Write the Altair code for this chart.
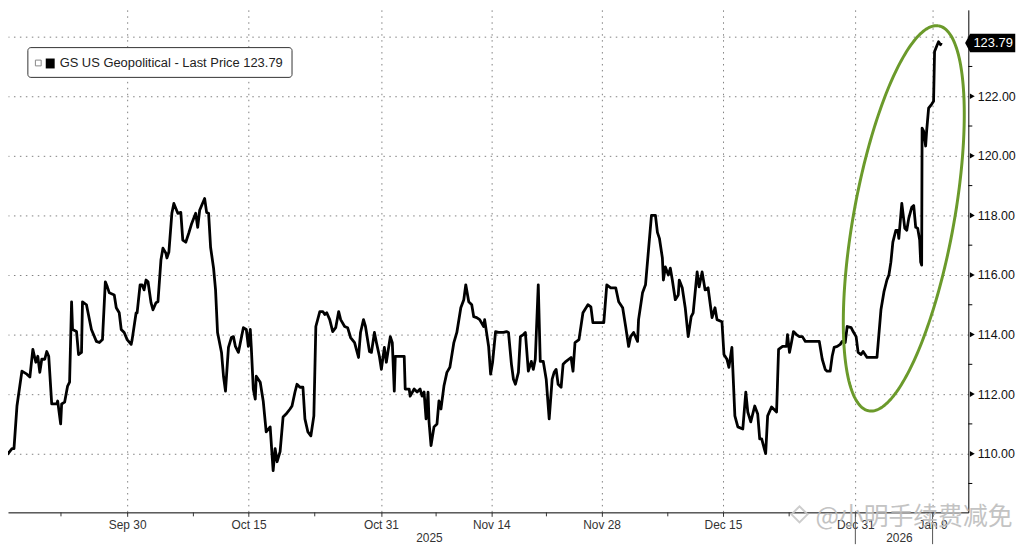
import altair as alt
import pandas as pd
import numpy as np

# ---- data (x = weekday index from Sep 15, 2025) ----
T = [-0.52, -0.25, -0.07, 0.20, 0.56, 0.74, 1.01, 1.46, 1.91, 2.18, 2.45, 2.72, 2.90, 3.08, 3.26, 3.53, 3.71, 3.89,
     4.16, 4.61, 4.70, 4.97, 5.06, 5.33, 5.60, 5.78, 5.96, 6.05, 6.41, 6.59, 6.86, 6.95, 7.31, 7.76, 8.21, 8.48, 8.76,
     9.02, 9.20, 9.38, 9.83, 10.01, 10.28, 10.46, 10.73, 11.00, 11.36, 11.45, 11.81, 11.90, 12.17, 12.35, 12.53, 12.71,
     12.89, 13.16, 13.34, 13.61, 13.79, 14.06, 14.24, 14.51, 14.60, 14.78, 15.05, 15.23, 15.59, 15.86, 16.04, 16.31,
     16.58, 16.85, 17.21, 17.39, 17.57, 17.75, 18.02, 18.20, 18.38, 18.56, 18.83, 19.01, 19.19, 19.55, 19.73, 19.91,
     20.18, 20.45, 20.63, 20.81, 21.08, 21.53, 21.80, 21.98, 22.16, 22.25, 22.43, 22.61, 22.70, 23.06, 23.33, 23.60,
     23.96, 24.23, 24.41, 24.59, 24.86, 25.13, 25.40, 25.76, 25.94, 26.21, 26.39, 26.66, 26.93, 27.11, 27.38, 27.65,
     27.92, 28.10, 28.46, 28.73, 28.91, 29.09, 29.36, 29.63, 29.90, 30.17, 30.35, 30.71, 30.98, 31.25, 31.61, 31.97,
     32.15, 32.42, 32.60, 32.96, 33.14, 33.41, 33.59, 33.86, 34.04, 34.31, 34.49, 34.85, 35.03, 35.21, 35.30, 35.66,
     36.11, 36.20, 36.56, 36.65, 37.01, 37.28, 37.55, 37.73, 37.91, 38.09, 38.27, 38.36, 38.54, 38.81, 39.08, 39.26,
     39.44, 39.71, 39.98, 40.25, 40.61, 40.88, 41.24, 41.51, 41.69, 41.96, 42.23, 42.41, 42.68, 42.95, 43.31, 43.40,
     43.76, 43.94, 44.12, 44.39, 44.66, 45.11, 45.38, 45.56, 45.83, 46.01, 46.19, 46.46, 46.64, 46.91, 47.09, 47.36,
     47.63, 47.81, 47.99, 48.26, 48.44, 48.71, 48.98, 49.25, 49.52, 49.70, 49.88, 50.06, 50.33, 50.51, 50.78, 51.23,
     51.41, 51.59, 51.95, 52.31, 52.76, 53.03, 53.21, 54.20, 54.47, 54.83, 55.28, 55.55, 55.91, 56.18, 56.45, 56.63,
     56.90, 57.26, 57.35, 57.71, 57.98, 58.25, 58.52, 58.88, 59.06, 59.24, 59.51, 59.60, 59.78, 60.05, 60.23, 60.41,
     60.68, 60.95, 61.04, 61.31, 61.58, 61.85, 62.12, 62.30, 62.66, 62.84, 63.11, 63.38, 63.65, 64.01, 64.28, 64.46,
     64.91, 65.09, 65.36, 65.54, 65.81, 66.08, 66.35, 66.80, 67.07, 67.25, 67.52, 67.88, 68.15, 68.33, 68.51, 68.87,
     69.05, 69.41, 69.86, 70.04, 70.40, 70.76, 70.85, 71.03, 71.21, 71.39, 71.66, 71.93, 72.20, 72.47, 73.73, 74.00,
     74.27, 74.44, 74.72, 74.90, 75.08, 75.36, 75.63, 75.81, 76.08, 76.26, 76.62, 76.80, 77.07, 77.25, 77.52, 77.70,
     78.06, 78.96, 79.32, 79.59, 79.86, 80.04, 80.22, 80.40, 80.67, 80.85, 80.94, 81.21, 81.48, 81.66, 81.84, 82.11,
     82.29, 82.47, 82.65, 82.83, 82.92, 83.01, 83.05, 83.19, 83.37, 83.46, 83.64, 83.91, 84.09, 84.18, 84.36, 84.54,
     84.72, 84.80]

PRICE = [109.93, 109.50, 110.17, 110.00, 110.17, 110.17, 111.60, 112.77, 112.67, 112.57, 113.50, 113.07, 113.27, 112.73,
         113.17, 113.17, 113.43, 113.27, 111.67, 111.67, 111.77, 111.00, 111.67, 111.73, 112.27, 112.40, 115.10, 114.17,
         114.10, 113.33, 113.40, 115.10, 115.00, 114.17, 113.77, 113.73, 113.83, 115.77, 115.60, 115.40, 115.33, 114.90,
         114.73, 114.17, 114.07, 113.83, 113.67, 113.83, 114.73, 114.73, 115.67, 115.67, 115.50, 115.83, 115.77, 115.07,
         114.83, 115.07, 115.10, 116.50, 116.90, 116.73, 116.57, 116.77, 118.07, 118.40, 118.07, 118.10, 117.17, 117.10,
         117.40, 117.73, 118.07, 117.60, 118.17, 118.33, 118.57, 118.10, 118.07, 116.93, 116.23, 115.50, 114.07, 113.40,
         112.60, 112.10, 113.57, 113.90, 113.93, 113.60, 113.40, 114.23, 114.17, 113.60, 114.17, 113.57, 112.17, 111.83,
         112.60, 112.40, 111.77, 110.73, 110.90, 109.43, 110.17, 109.73, 110.07, 111.23, 111.33, 111.50, 111.60, 112.07,
         112.33, 112.23, 112.23, 111.17, 110.73, 110.60, 111.27, 114.27, 114.77, 114.77, 114.67, 114.73, 114.50, 114.10,
         114.23, 114.77, 114.50, 114.27, 114.23, 113.90, 113.73, 113.23, 114.07, 114.50, 114.27, 113.43, 113.40, 114.07,
         113.73, 113.27, 112.83, 113.57, 113.07, 113.93, 113.73, 112.10, 113.27, 113.27, 113.27, 112.17, 112.17, 111.93,
         112.17, 112.07, 112.17, 111.93, 112.07, 111.17, 112.07, 111.07, 110.27, 110.90, 111.00, 111.77, 111.50, 112.27,
         112.73, 112.90, 113.73, 114.07, 114.90, 115.17, 115.67, 115.10, 115.00, 114.60, 114.57, 114.50, 114.27, 114.50,
         113.60, 112.67, 113.07, 114.10, 114.07, 114.07, 114.10, 114.07, 113.00, 112.50, 112.33, 112.73, 113.93, 114.00,
         114.07, 112.77, 113.10, 112.83, 113.17, 115.67, 113.10, 113.10, 112.50, 111.17, 112.50, 112.73, 112.83, 112.33,
         112.23, 113.00, 113.10, 113.23, 112.77, 113.73, 113.83, 114.73, 115.00, 114.93, 114.40, 114.40, 115.67, 115.57,
         115.57, 115.10, 114.90, 114.27, 113.60, 113.93, 114.07, 113.77, 114.50, 115.40, 115.67, 116.83, 118.00, 118.00,
         117.43, 117.23, 116.57, 115.83, 116.27, 116.00, 116.23, 115.83, 115.17, 115.33, 115.83, 115.57, 114.90, 113.93,
         114.60, 114.73, 116.10, 115.60, 116.10, 115.50, 115.57, 114.57, 114.90, 114.50, 114.43, 113.33, 113.17, 112.90,
         113.57, 111.27, 110.90, 110.83, 112.07, 111.40, 111.07, 111.60, 111.33, 110.50, 110.50, 110.00, 111.27, 111.57,
         111.40, 113.50, 113.60, 113.60, 114.00, 113.40, 113.73, 114.10, 114.00, 113.93, 113.93, 113.77, 113.77, 113.17,
         112.83, 112.77, 112.77, 113.27, 113.57, 113.60, 113.67, 113.77, 113.73, 114.27, 114.23, 114.10, 113.93, 113.40,
         113.33, 113.43, 113.23, 113.23, 114.83, 115.43, 115.83, 116.00, 116.43, 117.10, 117.50, 117.50, 117.23, 118.40,
         117.57, 117.50, 117.90, 118.27, 118.33, 117.60, 117.57, 117.17, 116.43, 116.33, 120.93, 120.83, 120.33, 120.83,
         121.60, 121.73, 121.83, 123.50, 123.67, 123.83, 123.73, 123.79]

LAST = 123.79
SERIES_NAME = "GS US Geopolitical - Last Price"

TICK_T = [11, 22, 34, 44, 54, 65, 77, 84]
TICK_LABELS = ["Sep 30", "Oct 15", "Oct 31", "Nov 14", "Nov 28", "Dec 15", "Dec 31", "Jan 9"]
MINOR_T = [5, 17, 28, 39, 49, 60, 71]
Y_TICKS = [110, 112, 114, 116, 118, 120, 122, 124]
Y_LABELED = [110, 112, 114, 116, 118, 120, 122]
Y_MINOR = [109, 111, 113, 115, 117, 119, 121, 123]
YEAR_T = [38.4, 81.0]
YEAR_LABELS = ["2025", "2026"]
SEP_T = [77.0, 84.0]
WATERMARK = "@小明手续费减免"

# ---- layout / scale ----
W, H = 967, 506
XMIN, XMAX = 0.198, 87.24
YMIN, YMAX = 108.03, 124.9
PX_T = W / (XMAX - XMIN)
PX_P = H / (YMAX - YMIN)

# highlight ellipse (center in data units, axes in px, tilt)
EC_T, EC_P = 81.39, 117.9
EA, EB, ETHETA = 197.0, 50.5, np.deg2rad(10.3)
s = np.linspace(0, 2 * np.pi, 241)
dx = EA * np.cos(s) * np.sin(ETHETA) + EB * np.sin(s) * np.cos(ETHETA)
dy = EA * np.cos(s) * np.cos(ETHETA) - EB * np.sin(s) * np.sin(ETHETA)
ell = pd.DataFrame({"t": EC_T + dx / PX_T, "price": EC_P + dy / PX_P, "o": np.arange(len(s))})

df = pd.DataFrame({"t": T, "price": PRICE})

FONT = "Liberation Sans"
xscale = alt.Scale(domain=[XMIN, XMAX], nice=False, zero=False)
yscale = alt.Scale(domain=[YMIN, YMAX], nice=False, zero=False)

label_expr = "".join([f"datum.value == {v} ? '{l}' : " for v, l in zip(TICK_T, TICK_LABELS)]) + "''"
ylabel_expr = "datum.value == 124 ? '' : format(datum.value, '.2f')"

XAXIS = alt.Axis(
    values=TICK_T, labelExpr=label_expr, title=None, grid=True, gridColor="#808080",
    gridDash=[1.5, 4.5], gridWidth=1, domainColor="black", domainWidth=1, tickColor="#333",
    tickSize=4, labelFont=FONT, labelFontSize=12, labelColor="#333", labelPadding=3,
    labelFlush=False, labelOverlap=False)
YAXIS = alt.Axis(
    orient="right", values=Y_TICKS, labelExpr=ylabel_expr, title=None, grid=True,
    gridColor="#808080", gridDash=[1.5, 4.5], gridWidth=1, domainColor="black", domainWidth=1,
    ticks=False, labelPadding=9, labelFont=FONT, labelFontSize=12.5, labelColor="#111",
    labelFlush=False, labelOverlap=False)


def X():
    return alt.X("t:Q", scale=xscale, axis=XAXIS)


def Y():
    return alt.Y("price:Q", scale=yscale, axis=YAXIS)


line = alt.Chart(df).mark_line(color="black", strokeWidth=2.8, clip=True, strokeJoin="round").encode(
    x=X(), y=Y())

ellipse = alt.Chart(ell).mark_line(color="#6b9a2b", strokeWidth=3, clip=False).encode(
    x=X(), y=Y(), order="o:Q")

ytri = alt.Chart(pd.DataFrame({"price": Y_LABELED})).mark_point(
    shape="triangle-right", size=32, filled=True, color="black", opacity=1).encode(
    x=alt.value(W + 4), y=Y())

yminor = alt.Chart(pd.DataFrame({"price": Y_MINOR})).mark_rule(color="black", strokeWidth=1).encode(
    x=alt.value(W), x2=alt.value(W + 4), y=Y())

xminor = alt.Chart(pd.DataFrame({"t": MINOR_T})).mark_rule(color="#333", strokeWidth=1).encode(
    x=X(), y=alt.value(H), y2=alt.value(H + 4))

TAG_PATH = "M -1 0 L -0.8 -0.37 L 1 -0.37 L 1 0.37 L -0.8 0.37 Z"
lastdf = pd.DataFrame({"price": [LAST], "lbl": [f"{LAST:.2f}"]})
tag = alt.Chart(lastdf).mark_point(shape=TAG_PATH, size=2550, filled=True, color="black", opacity=1).encode(
    x=alt.value(W + 22), y=Y())
tagtext = alt.Chart(lastdf).mark_text(color="white", fontSize=13, font=FONT, align="center", baseline="middle").encode(
    x=alt.value(W + 25), y=Y(), text="lbl:N")

years = alt.Chart(pd.DataFrame({"t": YEAR_T, "lbl": YEAR_LABELS})).mark_text(
    fontSize=12, font=FONT, color="#333", baseline="middle").encode(
    x=X(), y=alt.value(H + 26), text="lbl:N")

seps = alt.Chart(pd.DataFrame({"t": SEP_T})).mark_rule(color="#555", strokeWidth=1).encode(
    x=X(), y=alt.value(H), y2=alt.value(H + 32))

one = pd.DataFrame({"k": [0]})
legbox = alt.Chart(one).mark_rect(fill="white", stroke="#333", strokeWidth=1, cornerRadius=3).encode(
    x=alt.value(20), x2=alt.value(286), y=alt.value(38), y2=alt.value(68))
legicon = alt.Chart(one).mark_point(shape="square", size=34, filled=False, color="#888", strokeWidth=1, opacity=1).encode(
    x=alt.value(30.5), y=alt.value(53.5))
legsq = alt.Chart(one).mark_rect(color="black").encode(
    x=alt.value(38), x2=alt.value(47), y=alt.value(49), y2=alt.value(59))
legtext = alt.Chart(pd.DataFrame({"lbl": [f"{SERIES_NAME} {LAST:.2f}"]})).mark_text(
    fontSize=13, font=FONT, color="#222", align="left", baseline="middle").encode(
    x=alt.value(52), y=alt.value(54), text="lbl:N")

wmicon = alt.Chart(one).mark_point(shape="diamond", size=260, filled=False, color="#c8c8c8", strokeWidth=2, opacity=0.9).encode(
    x=alt.value(797), y=alt.value(508))
wmtext = alt.Chart(pd.DataFrame({"lbl": [WATERMARK]})).mark_text(
    fontSize=25, font="Noto Sans CJK SC", color="#bdbdbd", opacity=0.9, align="left", baseline="middle").encode(
    x=alt.value(813), y=alt.value(511), text="lbl:N")

chart = alt.layer(
    line, ellipse, ytri, yminor, xminor, seps, years, legbox, legicon, legsq, legtext,
    tag, tagtext, wmicon, wmtext
).properties(width=W, height=H, padding=0, background="white").configure_view(strokeWidth=0)

chart.save("out.html", embed_options={"renderer": "svg", "actions": False})
